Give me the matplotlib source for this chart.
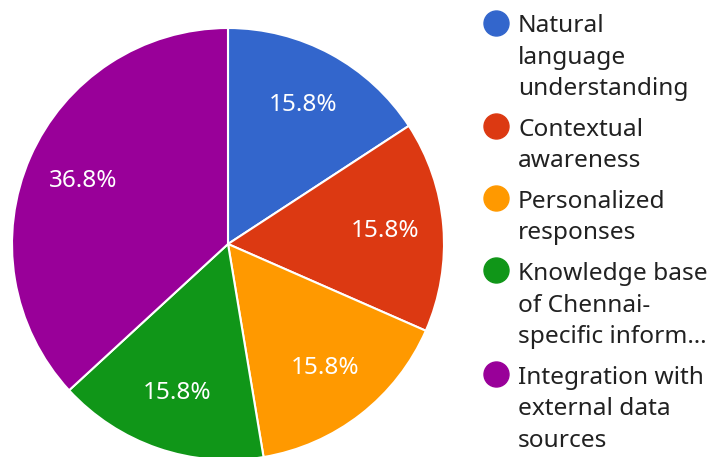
import matplotlib.pyplot as plt

# answer counts (percentages shown on slices)
categories = [
    "Natural\nlanguage\nunderstanding",
    "Contextual\nawareness",
    "Personalized\nresponses",
    "Knowledge base\nof Chennai-\nspecific inform…",
    "Integration with\nexternal data\nsources",
]
counts = [3, 3, 3, 3, 7]
colors = ["#3366cc", "#dc3912", "#ff9900", "#109618", "#990099"]

W, H = 709, 457
fig = plt.figure(figsize=(W / 100, H / 100), dpi=100)
plt.rcParams['font.family'] = ['Noto Sans', 'DejaVu Sans']

# pie: centre at (228, 244) px from top, radius 216 px
r = 216
cx, cy = 228, H - 244
ax = fig.add_axes([(cx - r) / W, (cy - r) / H, 2 * r / W, 2 * r / H])
wedges, texts, autotexts = ax.pie(
    counts, colors=colors, startangle=90, counterclock=False,
    autopct="%.1f%%", pctdistance=0.73,
    wedgeprops=dict(edgecolor="white", linewidth=1.5),
    textprops=dict(color="white", fontsize=17.5),
)
ax.set_xlim(-1, 1)
ax.set_ylim(-1, 1)
ax.set_aspect("equal")

# legend drawn by hand
step = 31.6
gap = 40.5
base = 32
for label, col in zip(categories, colors):
    lines = label.split("\n")
    fig.lines.append(plt.Line2D([496 / W], [(H - (base - 9.5)) / H], marker="o",
                                markersize=18, color=col, linestyle="none",
                                transform=fig.transFigure))
    for i, line in enumerate(lines):
        fig.text(518 / W, (H - (base + i * step)) / H, line, fontsize=17.6,
                 color="#212121", va="baseline", ha="left")
    base += (len(lines) - 1) * step + gap

fig.savefig("out.png", dpi=100)
